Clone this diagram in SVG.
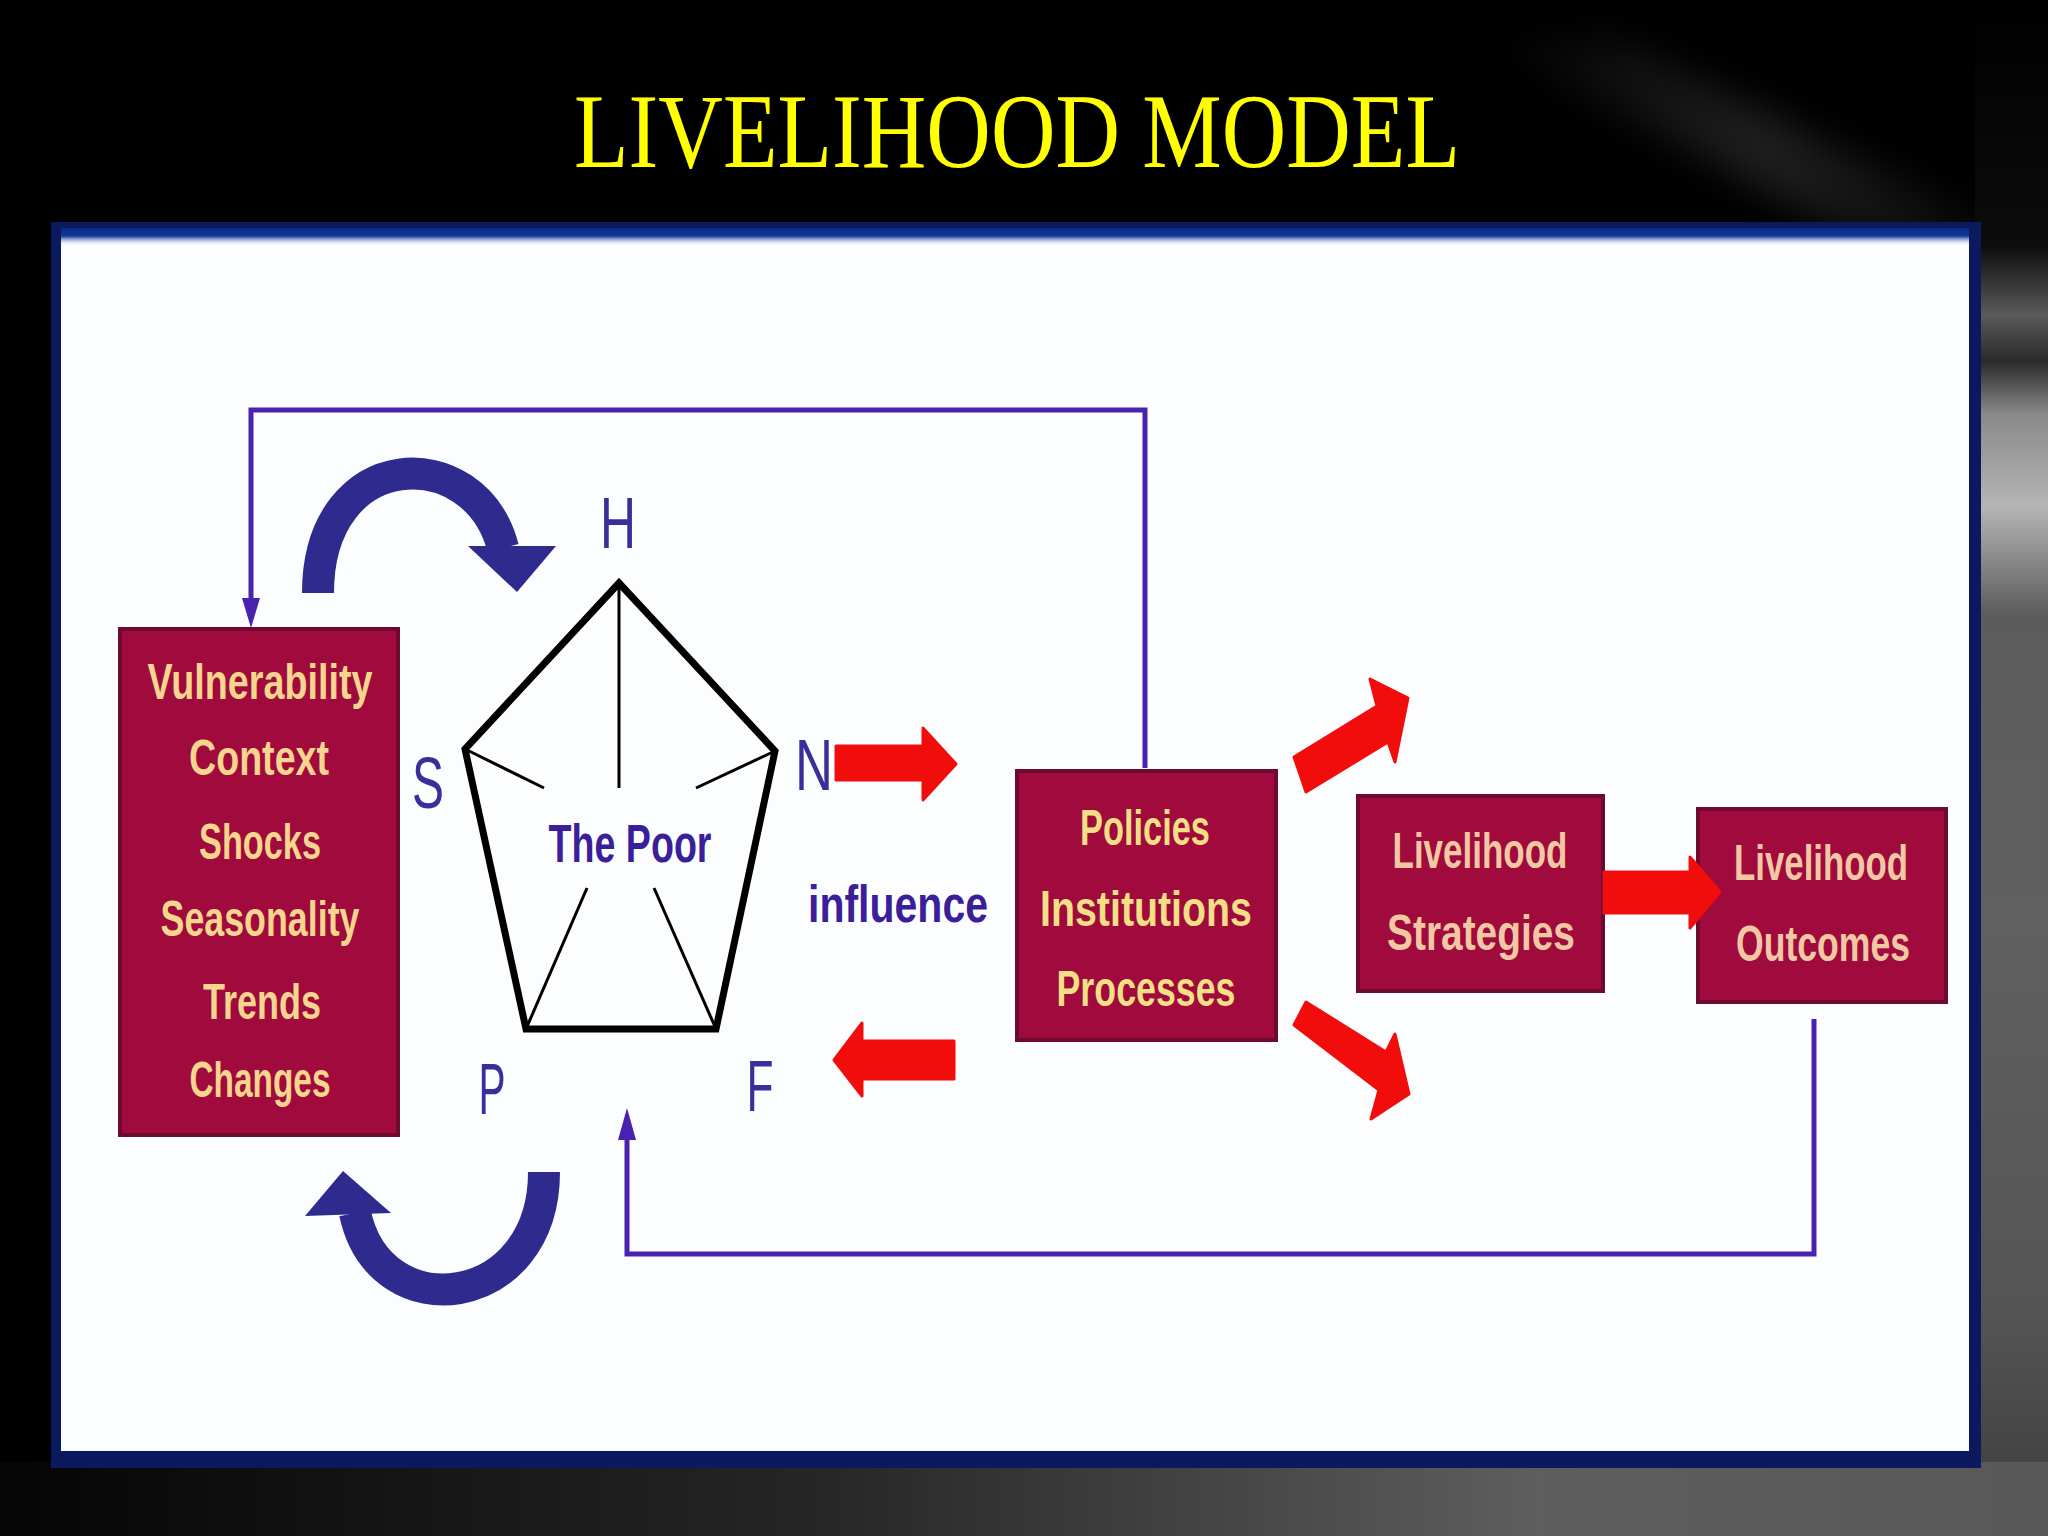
<svg xmlns="http://www.w3.org/2000/svg" width="2048" height="1536" viewBox="0 0 2048 1536">
<defs>
<linearGradient id="gRight" x1="0" y1="0" x2="0" y2="1">
<stop offset="0" stop-color="#000"/>
<stop offset="0.16" stop-color="#0c0c0c"/>
<stop offset="0.205" stop-color="#5a5a5a"/>
<stop offset="0.235" stop-color="#2a2a2a"/>
<stop offset="0.27" stop-color="#8a8a8a"/>
<stop offset="0.33" stop-color="#b5b5b5"/>
<stop offset="0.4" stop-color="#5c5c5c"/>
<stop offset="0.6" stop-color="#606060"/>
<stop offset="0.85" stop-color="#555"/>
<stop offset="1" stop-color="#3c3c3c"/>
</linearGradient>
<linearGradient id="gBottom" x1="0" y1="0" x2="1" y2="0">
<stop offset="0" stop-color="#050505"/>
<stop offset="0.4" stop-color="#262626"/>
<stop offset="0.75" stop-color="#5e5e5e"/>
<stop offset="1" stop-color="#585858"/>
</linearGradient>
<linearGradient id="gStreak" x1="0" y1="0" x2="1" y2="0">
<stop offset="0" stop-color="#fff" stop-opacity="0"/>
<stop offset="0.5" stop-color="#fff" stop-opacity="0.12"/>
<stop offset="1" stop-color="#fff" stop-opacity="0"/>
</linearGradient>
<linearGradient id="gTop" x1="0" y1="0" x2="0" y2="1">
<stop offset="0" stop-color="#0a2a85"/>
<stop offset="0.45" stop-color="#123a9a"/>
<stop offset="1" stop-color="#fcfdff" stop-opacity="0"/>
</linearGradient>
<filter id="blur" x="-20%" y="-20%" width="140%" height="140%"><feGaussianBlur stdDeviation="18"/></filter>
<style>
.box{fill:#a00a3c;stroke:#6e0a30;stroke-width:4}
.bt{font-family:"Liberation Sans",Arial,sans-serif;font-size:50px;font-weight:bold;text-anchor:middle}
.vt{fill:#f6d58e}
.pt{fill:#f3df86}
.lt{fill:#f2c8a4}
.let{font-family:"Liberation Sans",Arial,sans-serif;font-size:72px;fill:#3c2d9b;text-anchor:middle}
.pur{fill:none;stroke:#4a22b0;stroke-width:5}
.purh{fill:#4a22b0}
.red{fill:#f20d0d;stroke:#f20d0d;stroke-width:3;stroke-linejoin:round}
.blu{fill:none;stroke:#2e2a8e;stroke-width:32}
.bluh{fill:#2e2a8e}
.pent{fill:none;stroke:#000;stroke-width:7;stroke-linejoin:miter}
.spoke{stroke:#000;stroke-width:3}
</style>
</defs>
<rect x="0" y="0" width="2048" height="1536" fill="#000"/>
<path d="M1480 40 L1620 40 L2048 250 L2048 340 Z" fill="url(#gStreak)" filter="url(#blur)"/>
<rect x="1975" y="0" width="73" height="1536" fill="url(#gRight)"/>
<rect x="0" y="1462" width="2048" height="74" fill="url(#gBottom)"/>
<text x="1017" y="167" font-family="'Liberation Serif','Times New Roman',serif" font-size="106" fill="#ffff00" text-anchor="middle" textLength="886" lengthAdjust="spacingAndGlyphs">LIVELIHOOD MODEL</text>
<g id="panel">
<rect x="51" y="222" width="1930" height="1246" fill="#0b1a5e"/>
<rect x="61" y="233" width="1908" height="1218" fill="#fcfdff"/>
<rect x="61" y="228" width="1908" height="18" fill="url(#gTop)"/>
</g>
<g id="vulnerability">
<rect class="box" x="120" y="629" width="278" height="506"/>
<text class="bt vt" x="260" y="699" textLength="225" lengthAdjust="spacingAndGlyphs">Vulnerability</text>
<text class="bt vt" x="259" y="775" textLength="140" lengthAdjust="spacingAndGlyphs">Context</text>
<text class="bt vt" x="260" y="859" textLength="122" lengthAdjust="spacingAndGlyphs">Shocks</text>
<text class="bt vt" x="260" y="936" textLength="199" lengthAdjust="spacingAndGlyphs">Seasonality</text>
<text class="bt vt" x="262" y="1019" textLength="118" lengthAdjust="spacingAndGlyphs">Trends</text>
<text class="bt vt" x="260" y="1097" textLength="141" lengthAdjust="spacingAndGlyphs">Changes</text>
</g>
<g id="pentagon">
<polygon class="pent" points="619,583 465,749 526,1029 716,1029 775,751"/>
<line class="spoke" x1="619" y1="583" x2="619" y2="788"/>
<line class="spoke" x1="465" y1="749" x2="544" y2="788"/>
<line class="spoke" x1="775" y1="751" x2="696" y2="788"/>
<line class="spoke" x1="526" y1="1029" x2="587" y2="888"/>
<line class="spoke" x1="716" y1="1029" x2="654" y2="888"/>
<text x="630" y="862" font-family="'Liberation Sans',Arial,sans-serif" font-size="54" font-weight="bold" fill="#3a1e9a" text-anchor="middle" textLength="163" lengthAdjust="spacingAndGlyphs">The Poor</text>
<text class="let" x="618" y="548" textLength="36" lengthAdjust="spacingAndGlyphs">H</text>
<text class="let" x="428" y="808" textLength="32" lengthAdjust="spacingAndGlyphs">S</text>
<text class="let" x="814" y="790" font-size="82" textLength="38" lengthAdjust="spacingAndGlyphs">N</text>
<text class="let" x="492" y="1114" textLength="27" lengthAdjust="spacingAndGlyphs">P</text>
<text class="let" x="760" y="1111" textLength="27" lengthAdjust="spacingAndGlyphs">F</text>
</g>
<g id="influence">
<text x="898" y="922" font-family="'Liberation Sans',Arial,sans-serif" font-size="52" font-weight="bold" fill="#3a1e9a" text-anchor="middle" textLength="180" lengthAdjust="spacingAndGlyphs">influence</text>
</g>
<g id="policies">
<rect class="box" x="1017" y="771" width="259" height="269"/>
<text class="bt pt" x="1145" y="845" textLength="130" lengthAdjust="spacingAndGlyphs">Policies</text>
<text class="bt pt" x="1146" y="926" textLength="212" lengthAdjust="spacingAndGlyphs">Institutions</text>
<text class="bt pt" x="1146" y="1006" textLength="179" lengthAdjust="spacingAndGlyphs">Processes</text>
</g>
<g id="strategies">
<rect class="box" x="1358" y="796" width="245" height="195"/>
<text class="bt lt" x="1480" y="868" textLength="175" lengthAdjust="spacingAndGlyphs">Livelihood</text>
<text class="bt lt" x="1481" y="950" textLength="188" lengthAdjust="spacingAndGlyphs">Strategies</text>
</g>
<g id="outcomes">
<rect class="box" x="1698" y="809" width="248" height="193"/>
<text class="bt lt" x="1821" y="880" textLength="174" lengthAdjust="spacingAndGlyphs">Livelihood</text>
<text class="bt lt" x="1823" y="961" textLength="174" lengthAdjust="spacingAndGlyphs">Outcomes</text>
</g>
<g id="connectors">
<path class="pur" d="M1145 768 V410 H251 V600"/>
<polygon class="purh" points="242,598 260,598 251,628"/>
<path class="pur" d="M1814 1019 V1254 H627 V1138"/>
<polygon class="purh" points="618,1140 636,1140 627,1108"/>
<path class="blu" d="M318 593 C318 445 475 440 503 548"/>
<polygon class="bluh" points="468,546 556,546 517,592"/>
<path class="blu" d="M544 1172 C544 1310 380 1330 355 1213"/>
<polygon class="bluh" points="305,1216 391,1213 343,1171"/>
<polygon class="red" points="836,746 923,746 923,728 956,764 923,800 923,780 836,780"/>
<polygon class="red" points="954,1041 862,1041 862,1023 834,1060 862,1096 862,1079 954,1079"/>
<polygon class="red" points="1294,757 1377,706 1370,679 1408,698 1395,762 1388,742 1306,792"/>
<polygon class="red" points="1306,1002 1386,1052 1395,1034 1409,1094 1371,1119 1379,1090 1294,1025"/>
<polygon class="red" points="1604,872 1690,872 1690,857 1720,892 1690,928 1690,913 1604,913"/>
</g>
</svg>
